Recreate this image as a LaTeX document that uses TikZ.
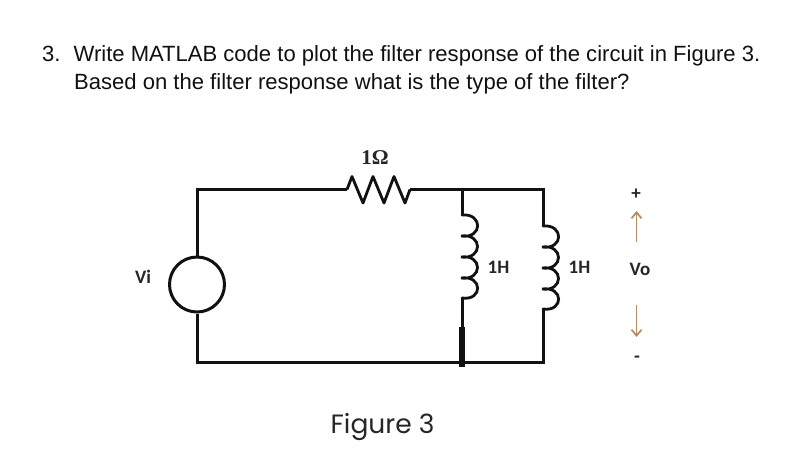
\documentclass[tikz,border=0pt]{standalone}
\usepackage{fontspec}
\setmainfont{Liberation Sans}
\newfontfamily\labfont{Carlito}
\newfontfamily\figfont{Poppins}
\newfontfamily\ohmfont{Liberation Serif}
\definecolor{arrowbrown}{HTML}{B98A62}
\definecolor{inkc}{HTML}{111111}
\tikzset{
  wire/.style={draw=inkc,line width=3pt,line join=miter},
  coil/.style={draw=inkc,line width=2.8pt,line cap=round},
  heading/.style={anchor=base west,inner sep=0pt,font=\fontsize{22.05}{24}\selectfont,text=inkc},
  lab/.style={inner sep=0pt,font=\labfont\bfseries\fontsize{19}{22}\selectfont,text=black!85},
  vout/.style={draw=arrowbrown,line width=1.7pt,-{Straight Barb[length=6pt,width=10pt]}}
}
\usetikzlibrary{arrows.meta}
\newcommand{\coilpath}[2]{%
  (#1,#2) .. controls (#1+21,#2-2) and (#1+21,#2+24) .. (#1-1,#2+21)
  .. controls (#1+21,#2+18) and (#1+21,#2+45) .. (#1-1,#2+42)
  .. controls (#1+21,#2+39) and (#1+21,#2+66) .. (#1-1,#2+63)
  .. controls (#1+21,#2+60) and (#1+21,#2+86) .. (#1,#2+83)}
\begin{document}
\begin{tikzpicture}[x=1pt,y=-1pt]
\useasboundingbox (0,0) rectangle (792,467);
\fill[white] (0,0) rectangle (792,467);
\node[heading] (q1) at (42,61) {3.\hspace{13pt}Write MATLAB code to plot the filter response of the circuit in Figure 3.};
\node[heading] (q2) at (74,89) {Based on the filter response what is the type of the filter?};

\coordinate (tl) at (197,189.5);
\coordinate (rs) at (347,189.5);
\coordinate (re) at (410,189.5);
\coordinate (j1) at (462,189.5);
\coordinate (tr) at (543,189.5);
\coordinate (bl) at (197,362.5);
\coordinate (j2) at (462,362.5);
\coordinate (br) at (543,362.5);
\coordinate (l1a) at (462,215);
\coordinate (l1b) at (462,298);
\coordinate (l2a) at (543,226);
\coordinate (l2b) at (543,309);
\coordinate (th) at (462,327);
\coordinate (thb) at (462,367);

\node[circle,draw=inkc,line width=3pt,minimum size=55pt,inner sep=0pt] (src) at (197,284.5) {};

\draw[wire] (src.north) -- (tl) -- (rs);
\draw[wire] (src.south) -- (bl) -- (j2) -- (br) -- (l2b);
\draw[wire] (re) -- (j1) -- (tr) -- (l2a);
\draw[wire] (j1) -- (l1a);
\draw[wire] (l1b) -- (th);
\draw[draw=inkc,line width=5.5pt] (th) -- (thb);
\draw[wire,line width=2.8pt,line join=round] (rs) -- (352,176.5) -- (363,203) -- (373,176.5) -- (384,203) -- (394,176.5) -- (405,203) -- (re);

\draw[coil] \coilpath{462}{215};
\draw[coil] \coilpath{543}{226};

\node[lab] (vi) at (143,277) {Vi};
\node[inner sep=0pt,font=\ohmfont\bfseries\fontsize{21}{24}\selectfont,text=black!85] (r) at (375,157.5) {1Ω};
\node[lab] (h1) at (498.5,267) {1H};
\node[lab] (h2) at (579.5,267) {1H};
\node[lab] (vo) at (640,269) {Vo};
\node[lab] (plus) at (636,194) {+};
\node[lab] (minus) at (637,359) {-};
\coordinate (u1) at (636.5,242);
\coordinate (u2) at (636.5,211);
\coordinate (d1) at (636.5,305);
\coordinate (d2) at (636.5,337);
\draw[vout] (u1) -- (u2);
\draw[vout] (d1) -- (d2);
\node[inner sep=0pt,font=\figfont\fontsize{26.5}{30}\selectfont,text=black!85] (fig) at (382.5,426.5) {Figure 3};
\end{tikzpicture}
\end{document}
